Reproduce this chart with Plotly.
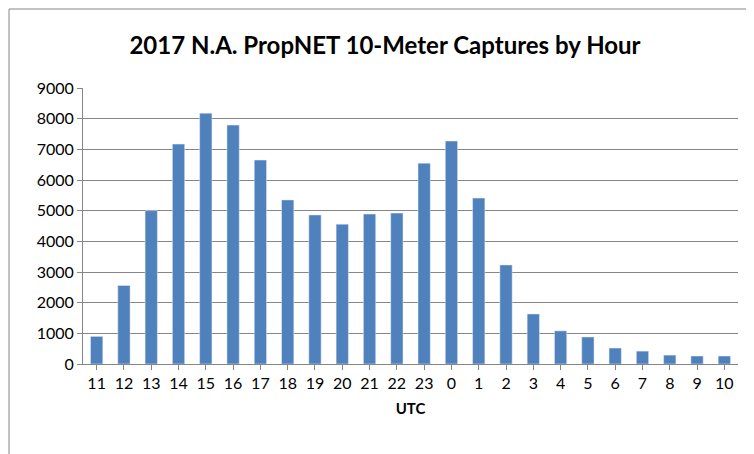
import plotly.graph_objects as go

hours = ["11", "12", "13", "14", "15", "16", "17", "18", "19", "20", "21", "22",
         "23", "0", "1", "2", "3", "4", "5", "6", "7", "8", "9", "10"]
captures = [900, 2560, 5000, 7170, 8180, 7790, 6650, 5350, 4860, 4560, 4890, 4920,
            6550, 7270, 5410, 3230, 1630, 1080, 880, 520, 420, 290, 260, 260]

fig = go.Figure(go.Bar(x=hours, y=captures, marker_color="#4F81BD", width=0.45))

fig.update_layout(
    width=754, height=454,
    paper_bgcolor="white", plot_bgcolor="white",
    margin=dict(l=75, r=24, t=80, b=98, autoexpand=False),
    font=dict(family="Lato, Liberation Sans, sans-serif", size=16, color="black"),
    title=dict(text="<b>2017 N.A. PropNET 10-Meter Captures by Hour</b>",
               x=0.5, xanchor="center", y=0.918, yanchor="middle",
               font=dict(size=24)),
    xaxis=dict(type="category", title=dict(text="<b>UTC</b>", font=dict(size=15), standoff=12),
               showline=True, linecolor="#868686", ticks="outside", ticklen=5,
               tickcolor="#868686", automargin=False),
    yaxis=dict(range=[0, 9000], dtick=1000, showgrid=True, gridcolor="#868686",
               gridwidth=1, showline=True, linecolor="#868686", ticks="outside",
               ticklen=5, tickcolor="#868686", zeroline=False, automargin=False),
    showlegend=False,
    shapes=[dict(type="rect", xref="paper", yref="paper", x0=-74 / 655, x1=1 + 22 / 655,
                 y0=-97 / 276, y1=1 + 79 / 276, line=dict(color="#868686", width=1))],
)

fig.write_html("out.html")
